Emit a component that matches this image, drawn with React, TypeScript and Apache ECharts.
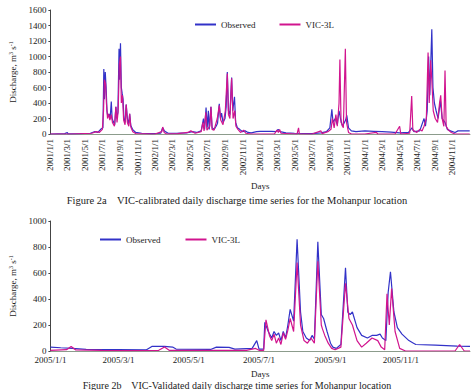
import React, { useEffect, useRef } from "react";
import * as echarts from "echarts";

// ---------- Figure 2a (2001-2004, calibration) ----------
const ticksA = [
  "2001/1/1", "2001/3/1", "2001/5/1", "2001/7/1", "2001/9/1", "2001/11/1",
  "2002/1/1", "2002/3/1", "2002/5/1", "2002/7/1", "2002/9/1", "2002/11/1",
  "2003/1/1", "2003/3/1", "2003/5/1", "2003/7/1", "2003/9/1", "2003/11/1",
  "2004/1/1", "2004/3/1", "2004/5/1", "2004/7/1", "2004/9/1", "2004/11/1",
];

const observedA: [string, number][] = [
  ["2001-01-01", 0], ["2001-02-20", 5], ["2001-03-01", 20], ["2001-03-03", 2], ["2001-04-15", 5],
  ["2001-05-20", 10], ["2001-06-05", 30], ["2001-06-15", 20], ["2001-06-25", 60], ["2001-07-03", 80],
  ["2001-07-06", 840], ["2001-07-08", 450], ["2001-07-11", 800], ["2001-07-14", 600], ["2001-07-17", 300],
  ["2001-07-20", 220], ["2001-07-24", 260], ["2001-07-28", 200], ["2001-08-01", 420], ["2001-08-04", 200],
  ["2001-08-08", 160], ["2001-08-13", 120], ["2001-08-17", 350], ["2001-08-20", 200], ["2001-08-24", 280],
  ["2001-08-28", 1100], ["2001-08-30", 700], ["2001-09-02", 1170], ["2001-09-05", 600], ["2001-09-08", 520],
  ["2001-09-11", 450], ["2001-09-14", 200], ["2001-09-18", 150], ["2001-09-22", 380], ["2001-09-26", 200],
  ["2001-09-30", 120], ["2001-10-04", 260], ["2001-10-08", 110], ["2001-10-14", 60], ["2001-10-25", 20],
  ["2001-11-15", 10], ["2001-12-20", 5], ["2002-01-20", 10], ["2002-01-27", 80], ["2002-02-02", 40],
  ["2002-02-15", 10], ["2002-03-15", 10], ["2002-04-20", 15], ["2002-05-10", 30], ["2002-05-25", 20],
  ["2002-06-10", 40], ["2002-06-18", 200], ["2002-06-22", 60], ["2002-06-27", 340], ["2002-07-01", 80],
  ["2002-07-05", 300], ["2002-07-08", 60], ["2002-07-14", 350], ["2002-07-18", 80], ["2002-07-25", 60],
  ["2002-08-01", 100], ["2002-08-06", 140], ["2002-08-12", 390], ["2002-08-16", 200], ["2002-08-20", 270],
  ["2002-08-25", 150], ["2002-09-01", 200], ["2002-09-05", 350], ["2002-09-09", 800], ["2002-09-13", 300],
  ["2002-09-18", 250], ["2002-09-24", 730], ["2002-09-28", 300], ["2002-10-04", 480], ["2002-10-08", 150],
  ["2002-10-14", 80], ["2002-10-22", 60], ["2002-11-01", 30], ["2002-11-10", 40], ["2002-11-20", 20],
  ["2002-12-01", 15], ["2002-12-20", 30], ["2003-01-01", 35], ["2003-02-10", 35], ["2003-02-25", 30],
  ["2003-03-05", 60], ["2003-03-12", 30], ["2003-04-01", 15], ["2003-05-01", 10], ["2003-07-01", 5],
  ["2003-08-01", 15], ["2003-08-20", 30], ["2003-09-01", 80], ["2003-09-08", 320], ["2003-09-12", 150],
  ["2003-09-20", 200], ["2003-09-27", 120], ["2003-10-03", 300], ["2003-10-08", 200], ["2003-10-15", 100],
  ["2003-10-26", 180], ["2003-10-30", 240], ["2003-11-05", 80], ["2003-11-15", 40], ["2003-12-01", 30],
  ["2004-01-01", 40], ["2004-02-01", 35], ["2004-03-01", 30], ["2004-04-01", 25], ["2004-05-01", 15],
  ["2004-06-01", 20], ["2004-06-13", 80], ["2004-06-20", 30], ["2004-07-10", 40], ["2004-07-25", 200],
  ["2004-07-30", 100], ["2004-08-05", 300], ["2004-08-10", 1000], ["2004-08-14", 500], ["2004-08-21", 1350],
  ["2004-08-25", 600], ["2004-08-30", 400], ["2004-09-05", 300], ["2004-09-12", 200], ["2004-09-20", 430],
  ["2004-09-26", 200], ["2004-10-06", 150], ["2004-10-14", 60], ["2004-10-25", 40], ["2004-11-10", 20],
  ["2004-11-20", 40], ["2004-12-31", 40],
];

const vicA: [string, number][] = [
  ["2001-01-01", 0], ["2001-03-15", 0], ["2001-05-25", 10], ["2001-06-10", 30], ["2001-06-20", 20],
  ["2001-07-01", 60], ["2001-07-05", 300], ["2001-07-08", 700], ["2001-07-12", 650], ["2001-07-15", 400],
  ["2001-07-19", 200], ["2001-07-23", 260], ["2001-07-27", 180], ["2001-08-01", 250], ["2001-08-05", 150],
  ["2001-08-12", 100], ["2001-08-17", 350], ["2001-08-21", 150], ["2001-08-25", 300], ["2001-08-29", 900],
  ["2001-09-02", 1000], ["2001-09-05", 400], ["2001-09-09", 500], ["2001-09-13", 180], ["2001-09-18", 120],
  ["2001-09-22", 380], ["2001-09-26", 150], ["2001-10-01", 100], ["2001-10-04", 260], ["2001-10-08", 90],
  ["2001-10-15", 30], ["2001-10-25", 5], ["2001-12-31", 0], ["2002-01-24", 30], ["2002-01-27", 90],
  ["2002-02-01", 20], ["2002-02-10", 0], ["2002-03-20", 5], ["2002-04-25", 20], ["2002-05-05", 40],
  ["2002-05-20", 10], ["2002-06-10", 30], ["2002-06-16", 150], ["2002-06-20", 40], ["2002-06-26", 280],
  ["2002-06-30", 50], ["2002-07-10", 100], ["2002-07-14", 350], ["2002-07-18", 60], ["2002-07-25", 50],
  ["2002-08-05", 200], ["2002-08-12", 370], ["2002-08-17", 180], ["2002-08-25", 120], ["2002-09-02", 300],
  ["2002-09-09", 780], ["2002-09-13", 250], ["2002-09-18", 200], ["2002-09-24", 720], ["2002-09-29", 200],
  ["2002-10-05", 300], ["2002-10-09", 100], ["2002-10-16", 60], ["2002-10-25", 20], ["2002-11-05", 50],
  ["2002-11-12", 10], ["2002-12-01", 0], ["2003-02-20", 0], ["2003-03-01", 50], ["2003-03-06", 20],
  ["2003-03-10", 60], ["2003-03-15", 10], ["2003-05-10", 0], ["2003-05-15", 80], ["2003-05-18", 0],
  ["2003-07-01", 0], ["2003-08-01", 40], ["2003-08-05", 5], ["2003-08-25", 30], ["2003-09-05", 60],
  ["2003-09-10", 200], ["2003-09-16", 80], ["2003-09-22", 250], ["2003-09-27", 100], ["2003-10-03", 400],
  ["2003-10-06", 960], ["2003-10-10", 150], ["2003-10-18", 80], ["2003-10-25", 1100], ["2003-10-29", 150],
  ["2003-11-05", 20], ["2003-11-15", 0], ["2004-01-01", 0], ["2004-02-10", 20], ["2004-02-15", 0],
  ["2004-04-15", 0], ["2004-05-01", 100], ["2004-05-05", 0], ["2004-06-05", 10], ["2004-06-12", 490],
  ["2004-06-16", 50], ["2004-06-30", 20], ["2004-07-10", 60], ["2004-07-18", 40], ["2004-07-25", 100],
  ["2004-08-02", 200], ["2004-08-08", 1050], ["2004-08-12", 400], ["2004-08-17", 950], ["2004-08-21", 700],
  ["2004-08-26", 300], ["2004-09-02", 200], ["2004-09-10", 150], ["2004-09-17", 400], ["2004-09-21", 500],
  ["2004-09-26", 200], ["2004-10-02", 100], ["2004-10-06", 820], ["2004-10-10", 100], ["2004-10-18", 50],
  ["2004-10-28", 20], ["2004-11-10", 0], ["2004-12-31", 0],
];

// ---------- Figure 2b (2005, validation) ----------
const ticksB = ["2005/1/1", "2005/3/1", "2005/5/1", "2005/7/1", "2005/9/1", "2005/11/1"];

const observedB: [string, number][] = [
  ["2005-01-01", 30], ["2005-01-10", 25], ["2005-01-20", 20], ["2005-02-01", 12], ["2005-03-01", 10],
  ["2005-03-25", 8], ["2005-03-30", 35], ["2005-04-10", 35], ["2005-04-17", 30], ["2005-04-20", 15],
  ["2005-05-20", 12], ["2005-05-25", 30], ["2005-06-05", 28], ["2005-06-10", 15], ["2005-06-25", 20],
  ["2005-06-29", 80], ["2005-07-01", 15], ["2005-07-05", 15], ["2005-07-06", 220], ["2005-07-09", 150],
  ["2005-07-12", 100], ["2005-07-14", 150], ["2005-07-16", 120], ["2005-07-18", 140], ["2005-07-20", 80],
  ["2005-07-22", 150], ["2005-07-24", 100], ["2005-07-26", 200], ["2005-07-28", 320], ["2005-07-31", 230],
  ["2005-08-03", 860], ["2005-08-06", 300], ["2005-08-08", 150], ["2005-08-11", 100], ["2005-08-14", 80],
  ["2005-08-16", 120], ["2005-08-18", 90], ["2005-08-21", 840], ["2005-08-24", 280], ["2005-08-26", 250],
  ["2005-08-29", 150], ["2005-09-01", 60], ["2005-09-03", 30], ["2005-09-06", 20], ["2005-09-10", 50],
  ["2005-09-14", 640], ["2005-09-16", 300], ["2005-09-18", 280], ["2005-09-20", 300], ["2005-09-24", 180],
  ["2005-09-28", 120], ["2005-10-03", 100], ["2005-10-07", 120], ["2005-10-11", 120], ["2005-10-14", 130],
  ["2005-10-16", 100], ["2005-10-19", 80], ["2005-10-21", 450], ["2005-10-23", 610], ["2005-10-26", 300],
  ["2005-10-29", 180], ["2005-11-02", 130], ["2005-11-08", 80], ["2005-11-12", 60], ["2005-11-14", 50],
  ["2005-12-01", 45], ["2005-12-20", 38], ["2005-12-31", 35],
];

const vicB: [string, number][] = [
  ["2005-01-01", 5], ["2005-01-15", 10], ["2005-01-19", 35], ["2005-01-23", 8], ["2005-02-15", 5],
  ["2005-03-10", 3], ["2005-04-05", 5], ["2005-04-10", 30], ["2005-04-14", 5], ["2005-05-01", 5],
  ["2005-06-20", 5], ["2005-06-28", 20], ["2005-07-01", 5], ["2005-07-05", 5], ["2005-07-07", 240],
  ["2005-07-10", 120], ["2005-07-12", 80], ["2005-07-14", 130], ["2005-07-16", 60], ["2005-07-18", 100],
  ["2005-07-20", 50], ["2005-07-22", 140], ["2005-07-24", 90], ["2005-07-26", 160], ["2005-07-28", 250],
  ["2005-07-31", 150], ["2005-08-03", 680], ["2005-08-06", 200], ["2005-08-09", 80], ["2005-08-12", 60],
  ["2005-08-15", 100], ["2005-08-18", 60], ["2005-08-21", 690], ["2005-08-24", 200], ["2005-08-25", 170],
  ["2005-08-27", 120], ["2005-08-30", 60], ["2005-09-02", 20], ["2005-09-05", 10], ["2005-09-10", 30],
  ["2005-09-14", 520], ["2005-09-17", 250], ["2005-09-20", 200], ["2005-09-24", 80], ["2005-09-28", 30],
  ["2005-10-02", 60], ["2005-10-07", 100], ["2005-10-12", 80], ["2005-10-15", 30], ["2005-10-18", 10],
  ["2005-10-20", 440], ["2005-10-22", 200], ["2005-10-24", 480], ["2005-10-27", 150], ["2005-10-31", 20],
  ["2005-11-05", 0], ["2005-12-18", 0], ["2005-12-22", 50], ["2005-12-26", 0], ["2005-12-31", 0],
];

const captionA = "Figure 2a    VIC-calibrated daily discharge time series for the Mohanpur location";
const captionB = "Figure 2b    VIC-Validated daily discharge time series for Mohanpur location";

const FONT = "Liberation Serif, Times New Roman, serif";
const OBS_COLOR = "#3232c8";
const VIC_COLOR = "#d1148e";

const toTs = (s: string) => {
  const [y, m, d] = s.split(/[\/-]/).map(Number);
  return new Date(y, m - 1, d).getTime();
};
const fmt = (v: number) => {
  const d = new Date(v);
  return `${d.getFullYear()}/${d.getMonth() + 1}/${d.getDate()}`;
};
const toSeries = (arr: [string, number][]) => arr.map(([d, v]) => [toTs(d), v]);

export default function App() {
  const ref = useRef<HTMLDivElement>(null);
  useEffect(() => {
    if (!ref.current) return;
    const chart = echarts.init(ref.current, null, { renderer: "svg" });
    const yName = "Discharge, m{sup|3} s{sup|-1}";
    const nameRich = {
      sup: { fontSize: 6, verticalAlign: "top", padding: [0, 0, 4, 0], fontFamily: FONT, color: "#222" },
    };
    const yAxisCommon = {
      type: "value",
      min: 0,
      interval: 200,
      name: yName,
      nameLocation: "middle",
      nameGap: 27,
      nameTextStyle: { fontFamily: FONT, fontSize: 9, color: "#222", rich: nameRich },
      axisLine: { show: true, lineStyle: { color: "#444", width: 1 } },
      axisTick: { show: true, length: 2, lineStyle: { color: "#444" } },
      axisLabel: { fontFamily: FONT, fontSize: 9, color: "#222", margin: 4, formatter: (v: number) => String(v) },
      splitLine: { show: false },
    };
    const xLine = { show: true, onZero: false, lineStyle: { color: "#8c9c8c", width: 1 } };
    chart.setOption({
      animation: false,
      textStyle: { fontFamily: FONT },
      grid: [
        { left: 36, top: 10, width: 434, height: 124 },
        { left: 36, top: 221, width: 434, height: 130 },
      ],
      legend: [
        {
          data: ["Observed", "VIC-3L"],
          left: 190,
          top: 15,
          icon: "rect",
          itemWidth: 21,
          itemHeight: 2,
          itemGap: 24,
          textStyle: { fontFamily: FONT, fontSize: 9, color: "#222" },
        },
        {
          data: ["Observed", "VIC-3L"],
          left: 95,
          top: 230,
          icon: "rect",
          itemWidth: 21,
          itemHeight: 2,
          itemGap: 25,
          textStyle: { fontFamily: FONT, fontSize: 9, color: "#222" },
        },
      ],
      xAxis: [
        {
          type: "value",
          gridIndex: 0,
          min: toTs("2001/1/1"),
          max: toTs("2005/1/1"),
          name: "Days",
          nameLocation: "middle",
          nameGap: 47,
          nameTextStyle: { fontFamily: FONT, fontSize: 9, color: "#222" },
          axisLine: xLine,
          axisTick: { show: false },
          splitLine: { show: false },
          axisLabel: {
            customValues: ticksA.map(toTs),
            formatter: (v: number) => fmt(v),
            rotate: 90,
            fontFamily: FONT,
            fontSize: 9,
            color: "#222",
            margin: 5,
          },
        },
        {
          type: "value",
          gridIndex: 1,
          min: toTs("2005/1/1"),
          max: toTs("2005/12/31"),
          name: "Days",
          nameLocation: "middle",
          nameGap: 18,
          nameTextStyle: { fontFamily: FONT, fontSize: 9, color: "#222" },
          axisLine: xLine,
          axisTick: { show: false },
          splitLine: { show: false },
          axisLabel: {
            customValues: ticksB.map(toTs),
            formatter: (v: number) => fmt(v),
            fontFamily: FONT,
            fontSize: 9,
            color: "#222",
            margin: 4,
          },
        },
      ],
      yAxis: [
        { ...yAxisCommon, gridIndex: 0, max: 1600 },
        { ...yAxisCommon, gridIndex: 1, max: 1000 },
      ],
      series: [
        {
          name: "Observed", type: "line", xAxisIndex: 0, yAxisIndex: 0, data: toSeries(observedA),
          showSymbol: false, lineStyle: { width: 1.2, color: OBS_COLOR }, itemStyle: { color: OBS_COLOR },
        },
        {
          name: "VIC-3L", type: "line", xAxisIndex: 0, yAxisIndex: 0, data: toSeries(vicA),
          showSymbol: false, lineStyle: { width: 1.2, color: VIC_COLOR }, itemStyle: { color: VIC_COLOR },
        },
        {
          name: "Observed", type: "line", xAxisIndex: 1, yAxisIndex: 1, data: toSeries(observedB),
          showSymbol: false, lineStyle: { width: 1.2, color: OBS_COLOR }, itemStyle: { color: OBS_COLOR },
        },
        {
          name: "VIC-3L", type: "line", xAxisIndex: 1, yAxisIndex: 1, data: toSeries(vicB),
          showSymbol: false, lineStyle: { width: 1.2, color: VIC_COLOR }, itemStyle: { color: VIC_COLOR },
        },
      ],
      graphic: [
        {
          type: "text", x: 237, y: 200,
          style: { text: captionA, fontFamily: FONT, fontSize: 10.5, fill: "#222", align: "center", verticalAlign: "middle" },
        },
        {
          type: "text", x: 237, y: 385,
          style: { text: captionB, fontFamily: FONT, fontSize: 10, fill: "#222", align: "center", verticalAlign: "middle" },
        },
      ],
    });
    return () => chart.dispose();
  }, []);
  return (
    <div
      ref={ref}
      style={{ position: "fixed", left: 0, top: 0, width: 474, height: 390, background: "#fff" }}
    />
  );
}
